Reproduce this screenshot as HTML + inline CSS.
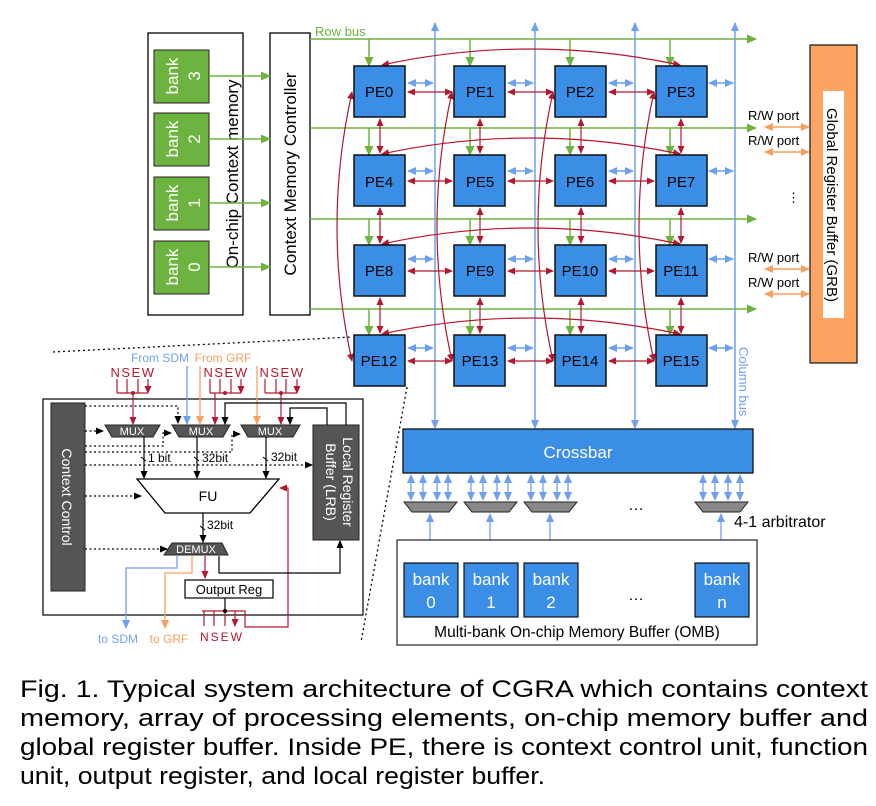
<!DOCTYPE html>
<html><head><meta charset="utf-8"><style>
html,body{margin:0;padding:0;background:#fff}
svg{display:block;font-family:"Liberation Sans",Arial,sans-serif}
</style></head><body>
<svg width="876" height="806" viewBox="0 0 876 806" xmlns="http://www.w3.org/2000/svg">
<defs>
<marker id="r" markerWidth="8" markerHeight="8" refX="7" refY="4" orient="auto-start-reverse" markerUnits="userSpaceOnUse"><path d="M0,0.5 L8,4 L0,7.5z" fill="#b5172f"/></marker>
<marker id="g" markerWidth="10" markerHeight="10" refX="9" refY="5" orient="auto-start-reverse" markerUnits="userSpaceOnUse"><path d="M0,0.5 L10,5 L0,9.5z" fill="#6db33f"/></marker>
<marker id="b" markerWidth="9" markerHeight="9" refX="8" refY="4.5" orient="auto-start-reverse" markerUnits="userSpaceOnUse"><path d="M0,0.5 L9,4.5 L0,8.5z" fill="#6f9ff0"/></marker>
<marker id="o" markerWidth="9" markerHeight="9" refX="8" refY="4.5" orient="auto-start-reverse" markerUnits="userSpaceOnUse"><path d="M0,0.5 L9,4.5 L0,8.5z" fill="#f7a060"/></marker>
<marker id="k" markerWidth="8" markerHeight="8" refX="7" refY="4" orient="auto-start-reverse" markerUnits="userSpaceOnUse"><path d="M0,0.5 L8,4 L0,7.5z" fill="#000"/></marker>
</defs>

<rect x="148" y="33" width="95" height="282" fill="#fff" stroke="#000" stroke-width="1.3"/>
<g fill="#6db33f" stroke="#222" stroke-width="1">
<rect x="154" y="50" width="55" height="53"/><rect x="154" y="113" width="55" height="53"/>
<rect x="154" y="177" width="55" height="53"/><rect x="154" y="241" width="55" height="53"/>
</g>
<g fill="#fff" font-size="17" text-anchor="middle">
<text transform="translate(178,76) rotate(-90)">bank</text><text transform="translate(200,76) rotate(-90)">3</text>
<text transform="translate(178,139) rotate(-90)">bank</text><text transform="translate(200,139) rotate(-90)">2</text>
<text transform="translate(178,203) rotate(-90)">bank</text><text transform="translate(200,203) rotate(-90)">1</text>
<text transform="translate(178,267) rotate(-90)">bank</text><text transform="translate(200,267) rotate(-90)">0</text>
</g>
<text transform="translate(238,174) rotate(-90)" font-size="17" text-anchor="middle">On-chip Context memory</text>
<rect x="270" y="33" width="40" height="282" fill="#fff" stroke="#000" stroke-width="1.3"/>
<text transform="translate(296,174) rotate(-90)" font-size="17" text-anchor="middle">Context Memory Controller</text>
<g stroke="#6db33f" stroke-width="1.5" marker-end="url(#g)">
<line x1="209" y1="76" x2="270" y2="76"/><line x1="209" y1="139" x2="270" y2="139"/>
<line x1="209" y1="203" x2="270" y2="203"/><line x1="209" y1="267" x2="270" y2="267"/>
</g>

<g stroke="#6db33f" stroke-width="1.5" marker-end="url(#g)">
<line x1="310" y1="39" x2="756" y2="39"/><line x1="310" y1="128" x2="756" y2="128"/>
<line x1="310" y1="219" x2="756" y2="219"/><line x1="310" y1="309" x2="756" y2="309"/>
</g>
<text x="315" y="36" font-size="13" fill="#6db33f">Row bus</text>
<g stroke="#6f9ff0" stroke-width="1.5" marker-end="url(#b)" marker-start="url(#b)">
<line x1="435" y1="23" x2="435" y2="428"/><line x1="535" y1="23" x2="535" y2="428"/>
<line x1="635" y1="23" x2="635" y2="428"/><line x1="735" y1="23" x2="735" y2="428"/>
</g>
<text transform="translate(739,347) rotate(90)" font-size="13" fill="#6f9ff0">Column bus</text>

<g stroke="#6db33f" stroke-width="1.5" marker-end="url(#g)">
<line x1="369" y1="39" x2="369" y2="66"/><line x1="470" y1="39" x2="470" y2="66"/><line x1="570" y1="39" x2="570" y2="66"/><line x1="670" y1="39" x2="670" y2="66"/>
<line x1="369" y1="128" x2="369" y2="155"/><line x1="470" y1="128" x2="470" y2="155"/><line x1="570" y1="128" x2="570" y2="155"/><line x1="670" y1="128" x2="670" y2="155"/>
<line x1="369" y1="219" x2="369" y2="245"/><line x1="470" y1="219" x2="470" y2="245"/><line x1="570" y1="219" x2="570" y2="245"/><line x1="670" y1="219" x2="670" y2="245"/>
<line x1="369" y1="309" x2="369" y2="335"/><line x1="470" y1="309" x2="470" y2="335"/><line x1="570" y1="309" x2="570" y2="335"/><line x1="670" y1="309" x2="670" y2="335"/>
</g>

<g stroke="#b5172f" stroke-width="1.2" fill="none" marker-end="url(#r)" marker-start="url(#r)">
<line x1="408" y1="92" x2="452" y2="92"/><line x1="508" y1="92" x2="553" y2="92"/><line x1="609" y1="92" x2="654" y2="92"/>
<line x1="408" y1="181" x2="452" y2="181"/><line x1="508" y1="181" x2="553" y2="181"/><line x1="609" y1="181" x2="654" y2="181"/>
<line x1="408" y1="271" x2="452" y2="271"/><line x1="508" y1="271" x2="553" y2="271"/><line x1="609" y1="271" x2="654" y2="271"/>
<line x1="408" y1="361" x2="452" y2="361"/><line x1="508" y1="361" x2="553" y2="361"/><line x1="609" y1="361" x2="654" y2="361"/>
<line x1="380" y1="119" x2="380" y2="153"/><line x1="480" y1="119" x2="480" y2="153"/><line x1="581" y1="119" x2="581" y2="153"/><line x1="681" y1="119" x2="681" y2="153"/>
<line x1="380" y1="208" x2="380" y2="243"/><line x1="480" y1="208" x2="480" y2="243"/><line x1="581" y1="208" x2="581" y2="243"/><line x1="681" y1="208" x2="681" y2="243"/>
<line x1="380" y1="298" x2="380" y2="333"/><line x1="480" y1="298" x2="480" y2="333"/><line x1="581" y1="298" x2="581" y2="333"/><line x1="681" y1="298" x2="681" y2="333"/>
<path d="M382,65 Q530,33 680,65"/><path d="M382,154 Q530,122 680,154"/><path d="M382,244 Q530,212 680,244"/><path d="M382,334 Q530,302 680,334"/>
<path d="M352,92 Q322,227 352,361"/><path d="M452,92 Q422,227 452,361"/><path d="M553,92 Q523,227 553,361"/><path d="M654,92 Q624,227 654,361"/>
</g>

<g stroke="#6f9ff0" stroke-width="1.5" marker-end="url(#b)" marker-start="url(#b)">
<line x1="408" y1="83" x2="433" y2="83"/><line x1="508" y1="83" x2="533" y2="83"/><line x1="609" y1="83" x2="633" y2="83"/><line x1="709" y1="83" x2="733" y2="83"/>
<line x1="408" y1="171" x2="433" y2="171"/><line x1="508" y1="171" x2="533" y2="171"/><line x1="609" y1="171" x2="633" y2="171"/><line x1="709" y1="171" x2="733" y2="171"/>
<line x1="408" y1="259" x2="433" y2="259"/><line x1="508" y1="259" x2="533" y2="259"/><line x1="609" y1="259" x2="633" y2="259"/><line x1="709" y1="259" x2="733" y2="259"/>
<line x1="408" y1="348" x2="433" y2="348"/><line x1="508" y1="348" x2="533" y2="348"/><line x1="609" y1="348" x2="633" y2="348"/><line x1="709" y1="348" x2="733" y2="348"/>
</g>

<g fill="#3a8ee6" stroke="#111" stroke-width="1.5">
<rect x="354" y="66" width="51" height="51"/><rect x="454" y="66" width="51" height="51"/><rect x="555" y="66" width="51" height="51"/><rect x="656" y="66" width="51" height="51"/>
<rect x="354" y="155" width="51" height="51"/><rect x="454" y="155" width="51" height="51"/><rect x="555" y="155" width="51" height="51"/><rect x="656" y="155" width="51" height="51"/>
<rect x="354" y="245" width="51" height="51"/><rect x="454" y="245" width="51" height="51"/><rect x="555" y="245" width="51" height="51"/><rect x="656" y="245" width="51" height="51"/>
<rect x="354" y="335" width="51" height="51"/><rect x="454" y="335" width="51" height="51"/><rect x="555" y="335" width="51" height="51"/><rect x="656" y="335" width="51" height="51"/>
</g>
<g font-size="15" text-anchor="middle">
<text x="379" y="97">PE0</text><text x="480" y="97">PE1</text><text x="580" y="97">PE2</text><text x="681" y="97">PE3</text>
<text x="379" y="187">PE4</text><text x="480" y="187">PE5</text><text x="580" y="187">PE6</text><text x="681" y="187">PE7</text>
<text x="379" y="276">PE8</text><text x="480" y="276">PE9</text><text x="580" y="276">PE10</text><text x="681" y="276">PE11</text>
<text x="379" y="366">PE12</text><text x="480" y="366">PE13</text><text x="580" y="366">PE14</text><text x="681" y="366">PE15</text>
</g>

<rect x="810" y="45" width="47" height="318" fill="#fda462" stroke="#222" stroke-width="1.3"/>
<rect x="823" y="91" width="21" height="227" fill="#fff"/>
<text transform="translate(827,205) rotate(90)" font-size="15" text-anchor="middle">Global Register Buffer (GRB)</text>
<g font-size="13"><text x="748" y="120">R/W port</text><text x="748" y="145">R/W port</text><text x="748" y="262">R/W port</text><text x="748" y="287">R/W port</text></g>
<text x="787" y="202" font-size="13">⋮</text>
<g stroke="#f7a060" stroke-width="1.5" marker-end="url(#o)" marker-start="url(#o)">
<line x1="765" y1="127" x2="809" y2="127"/><line x1="765" y1="152" x2="809" y2="152"/>
<line x1="765" y1="269" x2="809" y2="269"/><line x1="765" y1="294" x2="809" y2="294"/>
</g>

<rect x="403" y="429" width="350" height="44" fill="#3a8ee6" stroke="#111" stroke-width="1.3"/>
<text x="578" y="458" font-size="17" fill="#fff" text-anchor="middle">Crossbar</text>
<g stroke="#6f9ff0" stroke-width="1.3" marker-end="url(#b)" marker-start="url(#b)">
<line x1="411" y1="475" x2="411" y2="500"/><line x1="423" y1="475" x2="423" y2="500"/><line x1="437" y1="475" x2="437" y2="500"/><line x1="448" y1="475" x2="448" y2="500"/>
<line x1="471" y1="475" x2="471" y2="500"/><line x1="483" y1="475" x2="483" y2="500"/><line x1="497" y1="475" x2="497" y2="500"/><line x1="508" y1="475" x2="508" y2="500"/>
<line x1="531" y1="475" x2="531" y2="500"/><line x1="543" y1="475" x2="543" y2="500"/><line x1="557" y1="475" x2="557" y2="500"/><line x1="568" y1="475" x2="568" y2="500"/>
<line x1="703" y1="475" x2="703" y2="500"/><line x1="715" y1="475" x2="715" y2="500"/><line x1="728" y1="475" x2="728" y2="500"/><line x1="740" y1="475" x2="740" y2="500"/>
<line x1="430" y1="514" x2="430" y2="561"/><line x1="490" y1="514" x2="490" y2="561"/><line x1="550" y1="514" x2="550" y2="561"/><line x1="721" y1="514" x2="721" y2="561"/>
</g>
<g fill="#888" stroke="#222" stroke-width="1">
<polygon points="404,502 457,502 449,512 412,512"/><polygon points="464,502 517,502 509,512 472,512"/>
<polygon points="524,502 577,502 569,512 532,512"/><polygon points="695,502 748,502 740,512 703,512"/>
</g>
<text x="628" y="510" font-size="16">…</text>
<text x="734" y="527" font-size="16">4-1 arbitrator</text>
<rect x="397" y="540" width="360" height="105" fill="#fff" stroke="#222" stroke-width="1.2"/>
<g fill="#3a8ee6" stroke="#111" stroke-width="1.2">
<rect x="404" y="563" width="54" height="54"/><rect x="464" y="563" width="54" height="54"/><rect x="524" y="563" width="54" height="54"/><rect x="695" y="563" width="54" height="54"/>
</g>
<g fill="#fff" font-size="17" text-anchor="middle">
<text x="431" y="585">bank</text><text x="431" y="608">0</text>
<text x="491" y="585">bank</text><text x="491" y="608">1</text>
<text x="551" y="585">bank</text><text x="551" y="608">2</text>
<text x="722" y="585">bank</text><text x="722" y="608">n</text>
</g>
<text x="628" y="600" font-size="16">…</text>
<text x="577" y="637" font-size="15.5" text-anchor="middle">Multi-bank On-chip Memory Buffer (OMB)</text>

<g stroke="#000" stroke-width="1.3" stroke-dasharray="2,3" fill="none">
<line x1="53" y1="352" x2="352" y2="337"/><line x1="407" y1="387" x2="361" y2="642"/>
</g>

<rect x="43" y="399" width="320" height="216" fill="#fff" stroke="#000" stroke-width="1.2"/>
<rect x="51" y="403" width="34" height="188" fill="#555" stroke="#222"/>
<text transform="translate(62,497) rotate(90)" font-size="14" fill="#fff" text-anchor="middle">Context Control</text>
<rect x="313" y="425" width="46" height="115" fill="#555" stroke="#222"/>
<text transform="translate(343,482) rotate(90)" font-size="14" fill="#fff" text-anchor="middle">Local Register</text>
<text transform="translate(326,482) rotate(90)" font-size="14" fill="#fff" text-anchor="middle">Buffer (LRB)</text>

<g fill="#555" stroke="#222">
<polygon points="105,425 160,425 153,437 112,437"/><polygon points="172,425 230,425 223,437 179,437"/><polygon points="241,425 300,425 293,437 248,437"/>
<polygon points="172,543 222,543 228,555 164,555"/>
</g>
<g fill="#fff" font-size="11" text-anchor="middle"><text x="132" y="435">MUX</text><text x="201" y="435">MUX</text><text x="270" y="435">MUX</text><text x="196" y="553">DEMUX</text></g>

<g fill="#b5172f" font-size="13" text-anchor="middle" letter-spacing="1.5"><text x="133" y="377">NSEW</text><text x="226" y="377">NSEW</text><text x="282" y="377">NSEW</text>
<text x="222" y="641" font-size="12" letter-spacing="2">NSEW</text></g>
<g stroke="#b5172f" stroke-width="1.2" fill="none">
<path d="M117,379V393M127,379V393M138,379V393M148,379V393" marker-end="url(#r)"/>
<path d="M117,393H148"/>
<path d="M133,393V424" marker-end="url(#r)"/>
<path d="M210,379V393M220,379V393M231,379V393M241,379V393" marker-end="url(#r)"/>
<path d="M210,393H241"/><path d="M215,393V424" marker-end="url(#r)"/>
<path d="M265,379V393M276,379V393M286,379V393M297,379V393" marker-end="url(#r)"/>
<path d="M265,393H297"/><path d="M281,393V424" marker-end="url(#r)"/>
<path d="M205,556V578" marker-end="url(#r)"/>
<path d="M204,611V626M214,611V626M225,611V626M235,611V626" marker-end="url(#r)"/>
<path d="M202,611H245V627H288V488H280" marker-end="url(#r)"/>
</g>
<g fill="#b5172f"><circle cx="133" cy="393" r="2"/><circle cx="225" cy="393" r="2"/><circle cx="281" cy="393" r="2"/></g>
<text x="160" y="362" font-size="12" fill="#6f9ff0" text-anchor="middle">From SDM</text>
<text x="223" y="362" font-size="12" fill="#f7a060" text-anchor="middle">From GRF</text>
<g stroke-width="1.3" fill="none">
<path d="M187,366V424" stroke="#6f9ff0" marker-end="url(#b)"/>
<path d="M200,366V424" stroke="#f7a060" marker-end="url(#o)"/>
<path d="M257,366V424" stroke="#f7a060" marker-end="url(#o)"/>
<path d="M177,556V568H126V628" stroke="#6f9ff0" marker-end="url(#b)"/>
<path d="M192,556V573H165V628" stroke="#f7a060" marker-end="url(#o)"/>
</g>
<text x="118" y="643" font-size="12" fill="#6f9ff0" text-anchor="middle">to SDM</text>
<text x="169" y="643" font-size="12" fill="#f7a060" text-anchor="middle">to GRF</text>

<g stroke="#000" stroke-width="1.2" fill="none">
<path d="M346,425V403H225V424" marker-end="url(#k)"/>
<path d="M327,425V408H290V424" marker-end="url(#k)"/>
<path d="M144,437V478" marker-end="url(#k)"/>
<path d="M197,437V478" marker-end="url(#k)"/>
<path d="M266,437V478" marker-end="url(#k)"/>
<path d="M203,513V542" marker-end="url(#k)"/>
<path d="M219,556V573H340V541" marker-end="url(#k)"/>
<path d="M225,598V611"/>
</g>
<circle cx="225" cy="611" r="2"/>
<g stroke="#000" stroke-width="1.2" stroke-dasharray="2,2.5" fill="none">
<path d="M85,406H178V423" marker-end="url(#k)"/>
<path d="M85,431H103" marker-end="url(#k)"/>
<path d="M85,446H163V433H171" marker-end="url(#k)"/>
<path d="M85,452H232V434H240" marker-end="url(#k)"/>
<path d="M85,465H312" marker-end="url(#k)"/>
<path d="M85,496H141" marker-end="url(#k)"/>
<path d="M85,549H167" marker-end="url(#k)"/>
</g>
<g stroke="#000" stroke-width="1"><path d="M141,457l5,4M194,457l5,4M263,457l5,4M200,526l5,4"/></g>
<g font-size="12"><text x="148" y="462">1 bit</text><text x="202" y="462">32bit</text><text x="271" y="461">32bit</text><text x="207" y="529">32bit</text></g>
<polygon points="137,479 279,479 250,513 165,513" fill="#fff" stroke="#000" stroke-width="1.3"/>
<text x="208" y="501" font-size="14" text-anchor="middle">FU</text>
<rect x="185" y="580" width="88" height="18" fill="#fff" stroke="#000" stroke-width="1.2"/>
<text x="229" y="594" font-size="13" text-anchor="middle">Output Reg</text>

<g font-size="24">
<text x="20" y="697" textLength="848" lengthAdjust="spacingAndGlyphs">Fig. 1. Typical system architecture of CGRA which contains context</text>
<text x="20" y="726" textLength="848" lengthAdjust="spacingAndGlyphs">memory, array of processing elements, on-chip memory buffer and</text>
<text x="20" y="755" textLength="848" lengthAdjust="spacingAndGlyphs">global register buffer. Inside PE, there is context control unit, function</text>
<text x="20" y="784" textLength="525" lengthAdjust="spacingAndGlyphs">unit, output register, and local register buffer.</text>
</g>
</svg>
</body></html>
